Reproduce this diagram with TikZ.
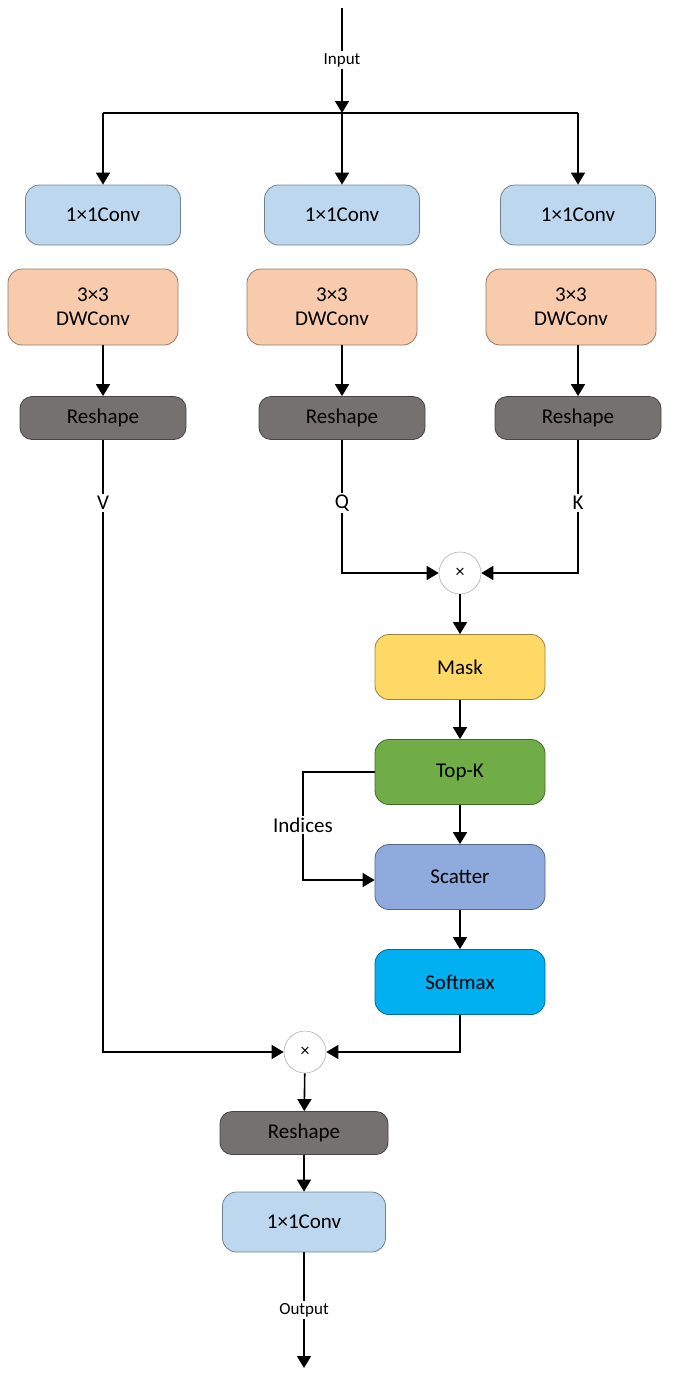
\documentclass[tikz,border=0pt]{standalone}
\usepackage{fontspec}
\setmainfont{Carlito}
\usetikzlibrary{arrows.meta}
\begin{document}
\begin{tikzpicture}[x=1pt,y=-1pt,
  box/.style={rounded corners=14pt,draw=#1!60!black,line width=0.8pt,minimum height=60pt,font=\fontsize{21}{24}\selectfont,align=center,inner sep=0pt},
  conv/.style={box=convc,fill=convc,minimum width=155pt,minimum height=60pt},
  dw/.style={box=dwc,fill=dwc,minimum width=170pt,minimum height=76pt},
  rs/.style={box=rsc,fill=rsc,minimum width=166pt,minimum height=43pt,rounded corners=12pt},
  mid/.style={box=#1,fill=#1,minimum width=170pt,minimum height=65pt},
  mul/.style={circle,draw=gray!60,line width=0.6pt,fill=white,minimum size=42pt,inner sep=0pt,font=\fontsize{18}{20}\selectfont},
  lbl/.style={font=\fontsize{21}{24}\selectfont,fill=white,inner sep=2pt},
  sl/.style={font=\fontsize{17}{20}\selectfont,fill=white,inner sep=2pt},
  ar/.style={-{Triangle[length=12pt,width=14pt]},line width=1.6pt},
  ln/.style={line width=1.6pt}]
\definecolor{convc}{HTML}{BDD7EE}
\definecolor{dwc}{HTML}{F8CBAD}
\definecolor{rsc}{HTML}{767171}
\definecolor{maskc}{HTML}{FFD966}
\definecolor{topc}{HTML}{70AD47}
\definecolor{scc}{HTML}{8FAADC}
\definecolor{smc}{HTML}{00B0F0}
\useasboundingbox (0,0) rectangle (685,1379);
\coordinate (top) at (342,8);
\node[sl] (in) at (342,60) {Input};
\coordinate (split) at (342,113);
\node[conv] (c1) at (103,215) {1×1Conv};
\node[conv] (c2) at (342,215) {1×1Conv};
\node[conv] (c3) at (578,215) {1×1Conv};
\node[dw] (d1) at (93,307) {3×3\\DWConv};
\node[dw] (d2) at (332,307) {3×3\\DWConv};
\node[dw] (d3) at (571,307) {3×3\\DWConv};
\node[rs] (r1) at (103,418) {Reshape};
\node[rs] (r2) at (342,418) {Reshape};
\node[rs] (r3) at (578,418) {Reshape};
\node[lbl] (V) at (103,503) {V};
\node[lbl] (Q) at (342,503) {Q};
\node[lbl] (K) at (578,503) {K};
\node[mul] (m1) at (460,573) {×};
\node[mid=maskc] (mask) at (460,667) {Mask};
\node[mid=topc] (topk) at (460,772) {Top-K};
\node[mid=scc] (sc) at (460,877) {Scatter};
\node[mid=smc] (sm) at (460,982) {Softmax};
\node[mul] (m2) at (305,1052) {×};
\node[rs,minimum width=168pt] (r4) at (304,1133) {Reshape};
\node[conv,minimum width=163pt] (c4) at (304,1222) {1×1Conv};
\node[sl] (out) at (304,1310) {Output};
\coordinate (end) at (304,1368);
\draw[ln] (top) -- (in);
\draw[ar] (in) -- (split);
\draw[ln] (103,113) -- (578,113);
\draw[ar] (103,113) -- (c1);
\draw[ar] (split) -- (c2);
\draw[ar] (578,113) -- (c3);
\draw[ar] (d1.south -| r1) -- (r1);
\draw[ar] (d2.south -| r2) -- (r2);
\draw[ar] (d3.south -| r3) -- (r3);
\draw[ln] (r1) -- (V); \draw[ln] (r2) -- (Q); \draw[ln] (r3) -- (K);
\draw[ar] (Q) |- (m1);
\draw[ar] (K) |- (m1);
\draw[ar] (m1) -- (mask);
\draw[ar] (mask) -- (topk);
\draw[ar] (topk) -- (sc);
\draw[ar] (sc) -- (sm);
\draw[ar] (topk.west) -- (303,772) -- (303,880) -- (sc.west |- 0,880);
\node[lbl] (ind) at (303,825) {Indices};
\draw[ar] (V) |- (m2);
\draw[ar] (sm) |- (m2);
\draw[ar] (m2) -- (r4);
\draw[ar] (r4) -- (c4);
\draw[ln] (c4) -- (out);
\draw[ar] (out) -- (end);
\end{tikzpicture}
\end{document}
